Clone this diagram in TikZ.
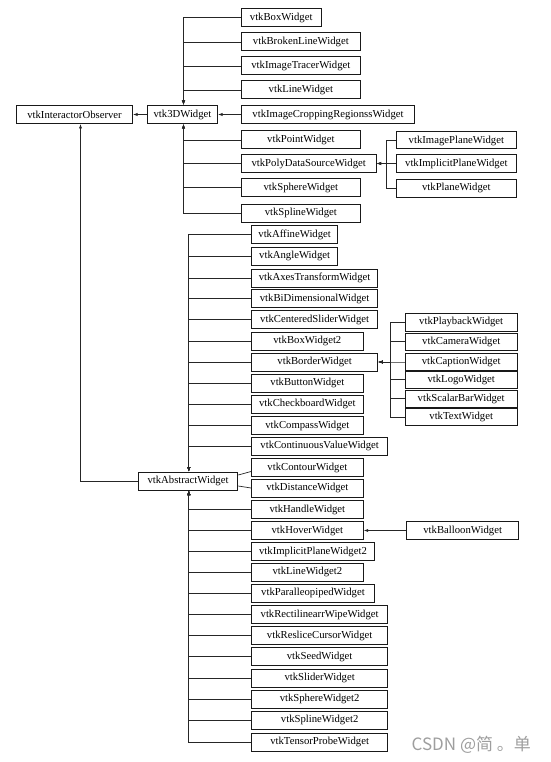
\documentclass[tikz,border=0pt]{standalone}
\usepackage{fontspec}
\setmainfont{Liberation Serif}
\newfontfamily\cjkfont{Noto Sans CJK SC}
\usetikzlibrary{arrows.meta}

\tikzset{
  wbox/.style={draw=black!90, line width=1pt, minimum height=18pt, inner sep=0pt, anchor=west, font=\fontsize{10.7}{12}\selectfont},
  link/.style={draw=black!85, line width=0.7pt, -{Latex[length=4.5pt,width=3.2pt]}},
  plain/.style={draw=black!85, line width=0.7pt}
}

\begin{document}
\begin{tikzpicture}[x=1pt, y=-1pt]
  \useasboundingbox (0,0) rectangle (550,762);
  % Roots
  \node[wbox, minimum width=116pt] (io) at (16,114.5) {vtkInteractorObserver};
  \node[wbox, minimum width=70pt] (w3d) at (147,114.5) {vtk3DWidget};
  \node[wbox, minimum width=99.6pt] (abs) at (137.7,481) {vtkAbstractWidget};
  % 3D widgets
  \node[wbox, minimum width=80pt] (box) at (240.7,17.8) {vtkBoxWidget};
  \node[wbox, minimum width=119.3pt] (broken) at (240.7,42) {vtkBrokenLineWidget};
  \node[wbox, minimum width=119.3pt] (tracer) at (240.7,66) {vtkImageTracerWidget};
  \node[wbox, minimum width=119.3pt] (line) at (240.7,90) {vtkLineWidget};
  \node[wbox, minimum width=173.6pt] (crop) at (240.7,114.5) {vtkImageCroppingRegionssWidget};
  \node[wbox, minimum width=119.3pt] (point) at (240.7,140) {vtkPointWidget};
  \node[wbox, minimum width=135pt] (polysrc) at (240.7,163.5) {vtkPolyDataSourceWidget};
  \node[wbox, minimum width=119.3pt] (sphere) at (240.7,187.5) {vtkSphereWidget};
  \node[wbox, minimum width=119.3pt] (spline) at (240.7,213) {vtkSplineWidget};
  % PolyDataSource subclasses
  \node[wbox, minimum width=119.7pt, minimum height=17pt] (imgplane) at (396,140.5) {vtkImagePlaneWidget};
  \node[wbox, minimum width=119.7pt] (implplane) at (396,163.5) {vtkImplicitPlaneWidget};
  \node[wbox, minimum width=119.7pt] (plane) at (396,188) {vtkPlaneWidget};
  % Abstract widgets
  \node[wbox, minimum width=86.3pt] (affine) at (251,234.5) {vtkAffineWidget};
  \node[wbox, minimum width=86.3pt] (angle) at (251,256) {vtkAngleWidget};
  \node[wbox, minimum width=126.3pt] (axes) at (251,278) {vtkAxesTransformWidget};
  \node[wbox, minimum width=126.3pt] (bidim) at (251,298.5) {vtkBiDimensionalWidget};
  \node[wbox, minimum width=126.3pt] (cslider) at (251,319.7) {vtkCenteredSliderWidget};
  \node[wbox, minimum width=111.7pt] (box2) at (251,341) {vtkBoxWidget2};
  \node[wbox, minimum width=126.3pt] (border) at (251,362) {vtkBorderWidget};
  \node[wbox, minimum width=111.7pt] (button) at (251,383) {vtkButtonWidget};
  \node[wbox, minimum width=111.7pt] (checkbd) at (251,404) {vtkCheckboardWidget};
  \node[wbox, minimum width=111.7pt] (compass) at (251,425.5) {vtkCompassWidget};
  \node[wbox, minimum width=136.3pt] (contval) at (251,446) {vtkContinuousValueWidget};
  \node[wbox, minimum width=111.7pt] (contour) at (251,467.5) {vtkContourWidget};
  \node[wbox, minimum width=111.7pt] (distance) at (251,488) {vtkDistanceWidget};
  \node[wbox, minimum width=111.7pt] (handle) at (251,509.5) {vtkHandleWidget};
  \node[wbox, minimum width=111.7pt] (hover) at (251,530.5) {vtkHoverWidget};
  \node[wbox, minimum width=123pt] (implplane2) at (251,551.7) {vtkImplicitPlaneWidget2};
  \node[wbox, minimum width=111.7pt] (line2) at (251,572) {vtkLineWidget2};
  \node[wbox, minimum width=123pt] (paral) at (251,593.3) {vtkParalleopipedWidget};
  \node[wbox, minimum width=136.3pt] (rectwipe) at (251,614.5) {vtkRectilinearrWipeWidget};
  \node[wbox, minimum width=136.3pt] (reslice) at (251,635.5) {vtkResliceCursorWidget};
  \node[wbox, minimum width=136.3pt] (seed) at (251,656.7) {vtkSeedWidget};
  \node[wbox, minimum width=136.3pt] (slider) at (251,678) {vtkSliderWidget};
  \node[wbox, minimum width=136.3pt] (sphere2) at (251,699) {vtkSphereWidget2};
  \node[wbox, minimum width=136.3pt] (spline2) at (251,720) {vtkSplineWidget2};
  \node[wbox, minimum width=136.3pt] (tensor) at (251,742) {vtkTensorProbeWidget};
  % Border subclasses
  \node[wbox, minimum width=112pt, minimum height=17.4pt] (playback) at (404.7,322.3) {vtkPlaybackWidget};
  \node[wbox, minimum width=112pt, minimum height=17.4pt] (camera) at (404.7,341.8) {vtkCameraWidget};
  \node[wbox, minimum width=112pt, minimum height=17.4pt] (caption) at (404.7,362) {vtkCaptionWidget};
  \node[wbox, minimum width=112pt, minimum height=17.4pt] (logo) at (404.7,379.7) {vtkLogoWidget};
  \node[wbox, minimum width=112pt, minimum height=17.4pt] (scalarbar) at (404.7,398.7) {vtkScalarBarWidget};
  \node[wbox, minimum width=112pt, minimum height=17.4pt] (text) at (404.7,417) {vtkTextWidget};
  % Hover subclass
  \node[wbox, minimum width=112.3pt, minimum height=17.4pt] (balloon) at (406,530.5) {vtkBalloonWidget};
  % Inheritance arrows
  \draw[link] (w3d.west) -- (io.east);
  \draw[link] (abs.west) -| ([xshift=6pt]io.south);
  \draw[link] (crop.west) -- (w3d.east);
  \foreach \n in {box,broken,tracer,line}
    \draw[link] (\n.west) -| ([xshift=1pt]w3d.north);
  \foreach \n in {point,polysrc,sphere,spline}
    \draw[link] (\n.west) -| ([xshift=1pt]w3d.south);
  \foreach \n in {imgplane,implplane,plane}
    \draw[link] (\n.west) -| ([xshift=10pt]polysrc.east) -- (polysrc.east);
  \foreach \n in {affine,angle,axes,bidim,cslider,box2,border,button,checkbd,compass,contval}
    \draw[link] (\n.west) -| ([xshift=0.8pt]abs.north);
  \foreach \n in {handle,hover,implplane2,line2,paral,rectwipe,reslice,seed,slider,sphere2,spline2,tensor}
    \draw[link] (\n.west) -| ([xshift=0.8pt]abs.south);
  \draw[plain] ([yshift=-4pt]contour.west) -- ([yshift=6pt]abs.east);
  \draw[plain] (distance.west) -- ([yshift=-5pt]abs.east);
  \foreach \n in {playback,camera,caption,logo,scalarbar,text}
    \draw[link] (\n.west) -| ([xshift=11.7pt]border.east) -- (border.east);
  \draw[link] (balloon.west) -- (hover.east);
  % Watermark
  \node[anchor=west, text=black!38, font=\cjkfont\fontsize{17}{18}\selectfont, inner sep=0pt] (mark) at (411.5,744.5) {CSDN @简 。单};
\end{tikzpicture}
\end{document}
